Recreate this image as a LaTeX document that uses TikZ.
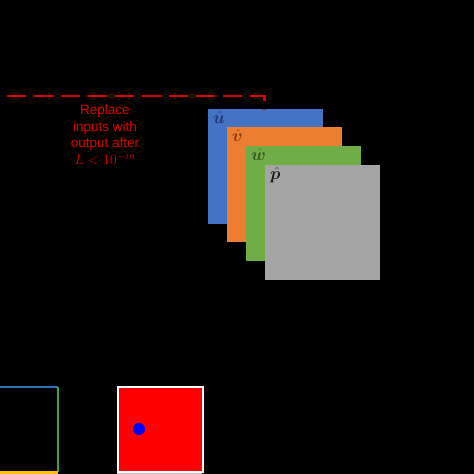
\documentclass[tikz,border=0pt]{standalone}
\usepackage{fontspec}
\setmainfont{Liberation Sans}
\usepackage{amsmath,bm}
\usetikzlibrary{positioning,calc}

\definecolor{ublue}{HTML}{4472C4}
\definecolor{vorange}{HTML}{ED7D31}
\definecolor{wgreen}{HTML}{70AD47}
\definecolor{pgray}{HTML}{A5A5A5}
\definecolor{udark}{HTML}{1F3864}
\definecolor{vdark}{HTML}{843C0C}
\definecolor{wdark}{HTML}{375623}
\definecolor{pdark}{HTML}{1A1A1A}
\definecolor{loopred}{HTML}{E00000}
\definecolor{edgeblue}{HTML}{2E75B6}
\definecolor{edgegreen}{HTML}{3CA04A}
\definecolor{edgeyellow}{HTML}{FFC000}

\begin{document}
\begin{tikzpicture}[x=1pt,y=-1pt]
\tikzstyle{every node}=[inner sep=0pt]
\tikzset{
  field/.style={rectangle, anchor=north west, minimum width=115pt, minimum height=115pt},
  fieldlabel/.style={anchor=north west, font=\fontsize{16}{16}\selectfont},
  loopline/.style={loopred, line width=2.6pt, dash pattern=on 19pt off 8pt, dash phase=20pt},
  sample/.style={rectangle, anchor=north west, minimum width=85pt, minimum height=85pt}
}

% background and page size
\fill[black] (0,0) rectangle (474,474);
\useasboundingbox (0,0) rectangle (474,474);

% stacked output fields
\node[field, fill=ublue] at (208,109) (u) {};
\node[fieldlabel, text=udark] at ([shift={(5,2)}]u.north west) (ulab) {$\bm{\hat{u}}$};

\node[field, fill=vorange] at (227,127) (v) {};
\node[fieldlabel, text=vdark] at ([shift={(5,2)}]v.north west) (vlab) {$\bm{\hat{v}}$};

\node[field, fill=wgreen] at (246,146) (w) {};
\node[fieldlabel, text=wdark] at ([shift={(5,2)}]w.north west) (wlab) {$\bm{\hat{w}}$};

\node[field, fill=pgray] at (265,165) (p) {};
\node[fieldlabel, text=pdark] at ([shift={(5,2)}]p.north west) (plab) {$\bm{\hat{p}}$};

% feedback loop
\coordinate (loopstart) at (0,96);
\draw[loopline] (loopstart) -| ([xshift=-1.5pt]u.north);

\node[text=loopred, align=center, font=\fontsize{13.5}{16.5}\selectfont] at (105,135) (note) {
Replace\\inputs with\\output after\\{\fontsize{15}{16.5}\selectfont$L<10^{-m}$}
};

% input samples
\node[sample] at (-27,387) (inp) {};
\draw[edgeblue, line width=2pt] (inp.north west) -- (inp.north east);
\draw[edgegreen, line width=2pt] (inp.north east) -- (inp.south east);
\draw[edgeyellow, line width=2.5pt] (inp.south west) -- (inp.south east);

\node[sample, fill=pgray!70] at (117,472) (next) {};
\node[sample, fill=red, draw=white, line width=2pt] at (117,386) (domain) {};
\node[circle, fill=blue, minimum size=12pt] at (139,429) (probe) {};

\end{tikzpicture}
\end{document}
